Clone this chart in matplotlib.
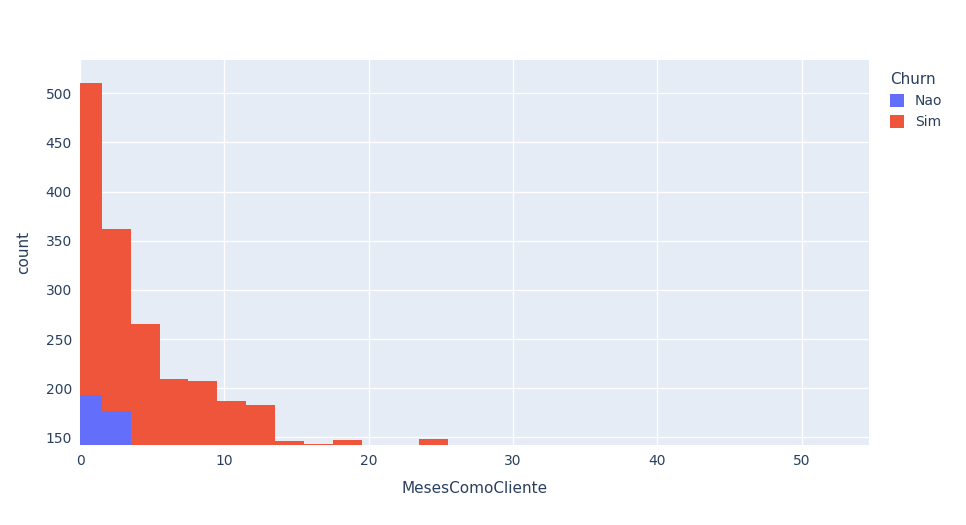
import matplotlib.pyplot as plt
import numpy as np

# stacked histogram, bins of width 2 starting at -0.5 (plotly style)
nao = [193, 177, 120, 100, 90, 80, 70, 60, 55, 50, 45, 40, 40, 30, 30, 25, 25, 20, 20, 15, 15, 10, 10, 10, 5, 5, 5]
total = [510, 362, 265, 209, 207, 187, 183, 146, 143, 147, 130, 141, 148, 120, 110, 100, 95, 90, 85, 80, 75, 70, 65, 60, 55, 50, 45]
sim = [t - n for t, n in zip(total, nao)]
bin_left = -0.5 + 2 * np.arange(len(total))

fig = plt.figure(figsize=(9.66, 5.25), dpi=100)
ax = fig.add_axes([0.083, 0.152, 0.817, 0.734])
ax.set_facecolor('#E5ECF6')

ax.bar(bin_left, nao, width=2, align='edge', color='#636efa', label='Nao', zorder=2)
ax.bar(bin_left, sim, width=2, bottom=nao, align='edge', color='#EF553B', label='Sim', zorder=2)

ax.set_xlim(0, 54.7)
ax.set_ylim(142, 534)
ax.set_xticks(np.arange(0, 51, 10))
ax.set_yticks(np.arange(150, 501, 50))
ax.grid(True, color='white', linewidth=1, zorder=1)
ax.set_axisbelow(True)
for s in ax.spines.values():
    s.set_visible(False)
ax.tick_params(length=0, labelsize=10, colors='#2a3f5f', pad=6)

ax.set_xlabel('MesesComoCliente', fontsize=11, color='#2a3f5f', labelpad=10)
ax.set_ylabel('count', fontsize=11, color='#2a3f5f', labelpad=10)

leg = ax.legend(title='Churn', loc='upper left', bbox_to_anchor=(1.01, 1.0), frameon=False,
                fontsize=10, title_fontsize=11, handlelength=1, handleheight=1, alignment='left')
for t in leg.get_texts():
    t.set_color('#2a3f5f')
leg.get_title().set_color('#2a3f5f')

plt.savefig('out.png', dpi=100)
